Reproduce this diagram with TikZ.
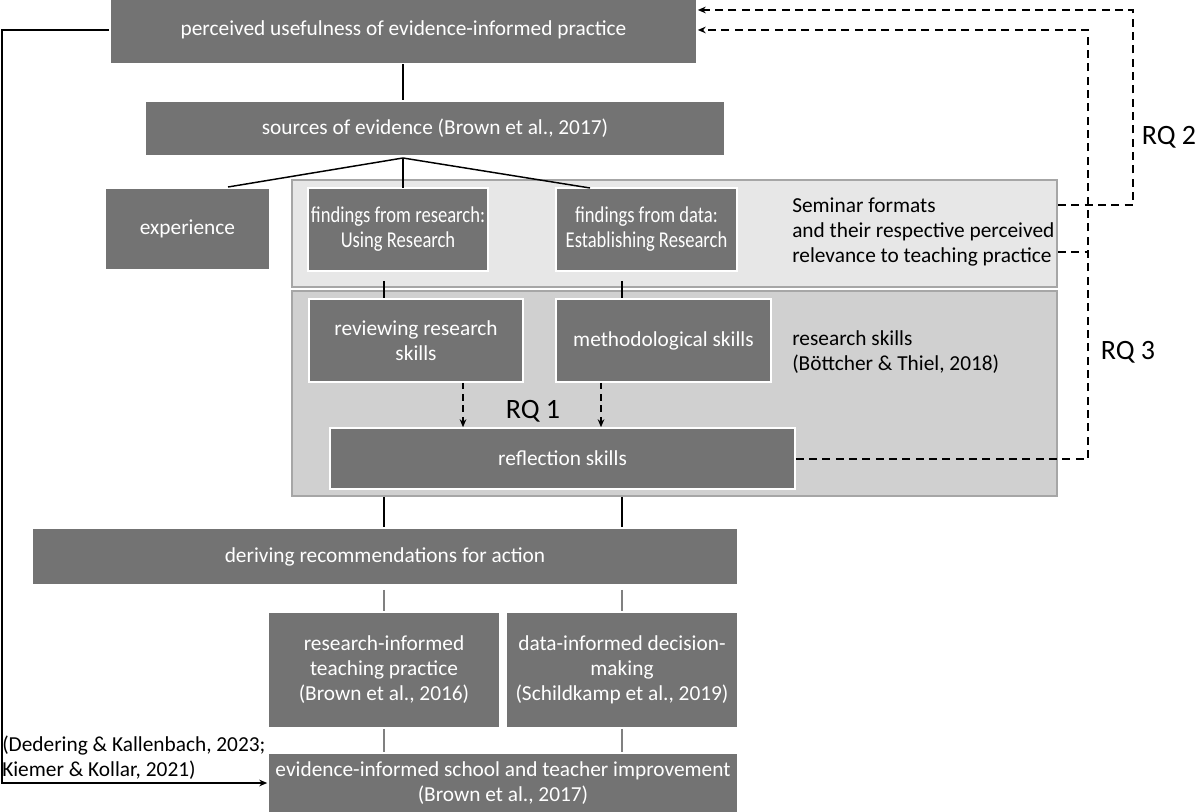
\documentclass[tikz,border=0pt]{standalone}
\usepackage{fontspec}
\setmainfont{Carlito}
\newfontfamily\condfont{Carlito}[FakeStretch=0.82]
\usetikzlibrary{arrows.meta}
\definecolor{boxgray}{HTML}{737373}
\definecolor{panelA}{HTML}{E7E7E7}
\definecolor{panelB}{HTML}{D0D0D0}
\definecolor{panelline}{HTML}{A6A6A6}
\begin{document}
\begin{tikzpicture}[x=0.75pt,y=-0.75pt,
  box/.style={fill=boxgray,draw=white,line width=1.2pt,text=white,align=center,inner sep=2pt,font=\fontsize{16}{18.8}\selectfont},
  condbox/.style={box,inner sep=0pt,font=\condfont\fontsize{17}{18.8}\selectfont},
  panel/.style={draw=panelline,line width=1.5pt},
  plain/.style={align=left,inner sep=0pt,font=\fontsize{16}{18.5}\selectfont},
  rq/.style={inner sep=0pt,font=\fontsize{21}{24}\selectfont},
  conn/.style={draw=black,line width=1.1pt},
  thinconn/.style={draw=gray,line width=0.8pt},
  dsh/.style={draw=black,line width=1.4pt,dash pattern=on 6pt off 4pt},
  tip/.style={-{Stealth[length=6pt,width=5pt]}}]
\useasboundingbox (0,0) rectangle (1200,812);
\clip (0,0) rectangle (1200,812);
% panels
\node[panel,fill=panelA,minimum width=573.75pt,minimum height=80.25pt,inner sep=0pt] (panel1) at (674.5,233.5) {};
\node[panel,fill=panelB,minimum width=573.75pt,minimum height=153.75pt,inner sep=0pt] (panel2) at (674.5,393.5) {};
% boxes
\node[box,minimum width=440.25pt,minimum height=50pt] (top) at (403.5,30) {perceived usefulness of evidence-informed practice};
\node[box,minimum width=435pt,minimum height=41.25pt] (src) at (435,128.5) {sources of evidence (Brown et al., 2017)};
\node[box,minimum width=123.75pt,minimum height=61.5pt] (exp) at (187.5,229) {experience};
\node[condbox,minimum width=135pt,minimum height=62.25pt] (findR) at (398,229.5) {findings from research:\\Using Research};
\node[condbox,minimum width=135.75pt,minimum height=62.25pt] (findD) at (646.5,229.5) {findings from data:\\Establishing Research};
\node[plain,anchor=west] (seminar) at (792,232) {Seminar formats\\and their respective perceived\\relevance to teaching practice};
\node[box,minimum width=160.5pt,minimum height=62.25pt] (review) at (416,340.5) {reviewing research\\skills};
\node[box,minimum width=161.25pt,minimum height=62.25pt] (method) at (663.5,340.5) {methodological skills};
\node[plain,anchor=west] (rskills) at (792,352) {research skills\\(Böttcher \& Thiel, 2018)};
\node[rq] (rq1) at (533,411) {RQ 1};
\node[box,minimum width=348.75pt,minimum height=45.75pt] (refl) at (562.5,458.5) {reflection skills};
\node[box,minimum width=529.5pt,minimum height=42.75pt] (derive) at (385,556.5) {deriving recommendations for action};
\node[box,minimum width=174pt,minimum height=87pt] (resinf) at (384,670) {research-informed\\teaching practice\\(Brown et al., 2016)};
\node[box,minimum width=174pt,minimum height=87pt] (datinf) at (622,670) {data-informed decision-\\making\\(Schildkamp et al., 2019)};
\node[box,minimum width=352.5pt,minimum height=57pt,text depth=14pt] (evid) at (503,791) {evidence-informed school and teacher improvement\\(Brown et al., 2017)};
\node[plain,anchor=west] (ded) at (2,758) {(Dedering \& Kallenbach, 2023;\\Kiemer \& Kollar, 2021)};
\node[rq] (rq2) at (1169,137) {RQ 2};
\node[rq] (rq3) at (1128,352) {RQ 3};
% connectors
\coordinate (fan) at (403,158);
\coordinate (fexp) at (228,187);
\coordinate (ffr) at (403,188);
\coordinate (ffd) at (590,188);
\draw[conn] (top.south -| fan) -- (src.north -| fan);
\draw[conn] (fan) -- (fexp);
\draw[conn] (fan) -- (ffr);
\draw[conn] (fan) -- (ffd);
\coordinate (cL) at (384,0);
\coordinate (cR) at (622,0);
\draw[conn] (findR.south -| cL) ++(0,9) -- (review.north -| cL);
\draw[conn] (findD.south -| cR) ++(0,9) -- (method.north -| cR);
\draw[conn] (panel2.south -| cL) -- (derive.north -| cL);
\draw[conn] (panel2.south -| cR) -- (derive.north -| cR);
\draw[thinconn] (derive.south -| cL) ++(0,4) -- (resinf.north -| cL);
\draw[thinconn] (derive.south -| cR) ++(0,4) -- (datinf.north -| cR);
\draw[thinconn] (resinf.south -| cL) -- (evid.north -| cL);
\draw[thinconn] (datinf.south -| cR) -- (evid.north -| cR);
% left feedback line
\coordinate (lt) at (2,30);
\coordinate (lb) at (2,783);
\draw[conn,tip] (top.west) -- (lt) -- (lb) -- (evid.west |- lb);
% RQ1 dashed arrows
\coordinate (d1) at (463,0);
\coordinate (d2) at (601,0);
\draw[dsh,line width=1.1pt,dash pattern=on 5pt off 3.5pt,tip] (review.south -| d1) -- (refl.north -| d1);
\draw[dsh,line width=1.1pt,dash pattern=on 5pt off 3.5pt,tip] (method.south -| d2) -- (refl.north -| d2);
% RQ2 / RQ3 dashed lines
\coordinate (o1) at (1133,205);
\coordinate (o2) at (1133,10);
\coordinate (i1) at (1088,459);
\coordinate (i2) at (1088,30);
\coordinate (m1) at (1088,252);
\draw[dsh,tip] (panel1.east |- o1) -- (o1) -- (o2) -- (top.east |- o2);
\draw[dsh,tip] (refl.east |- i1) -- (i1) -- (i2) -- (top.east |- i2);
\draw[dsh] (panel1.east |- m1) -- (m1);
\end{tikzpicture}
\end{document}
